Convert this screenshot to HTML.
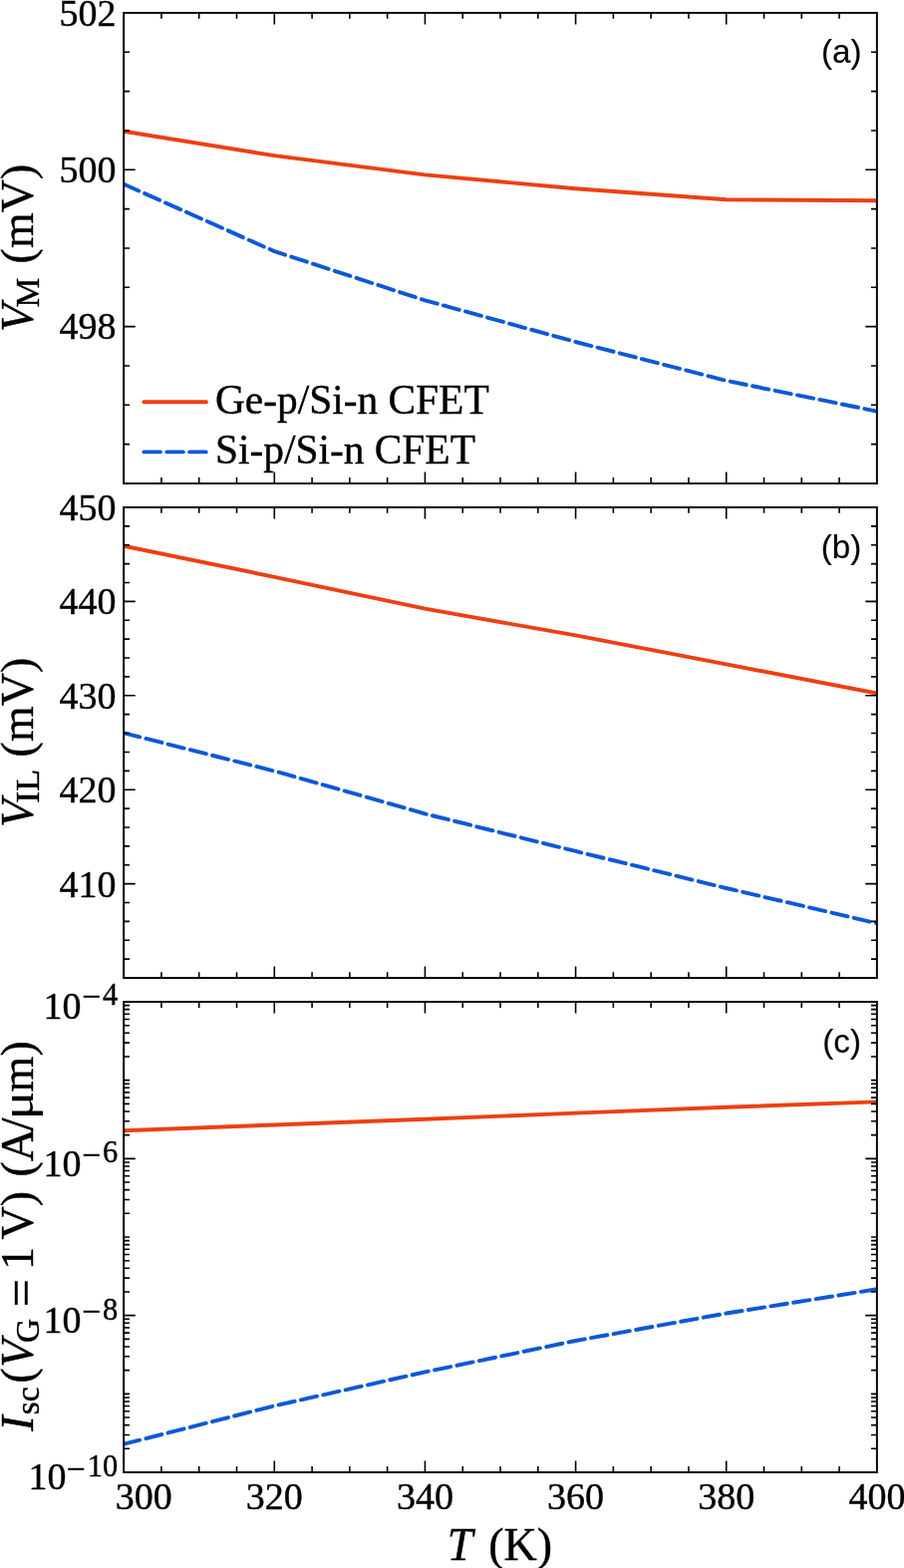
<!DOCTYPE html>
<html><head><meta charset="utf-8"><title>CFET temperature dependence</title>
<style>html,body{margin:0;padding:0;background:#fff}svg{display:block}</style></head>
<body>
<svg width="907" height="1573" viewBox="0 0 907 1573" font-family='"Liberation Serif","Times New Roman",serif' fill="#000" stroke="#000" stroke-width="0.4" stroke-linejoin="round">
<rect width="907" height="1573" fill="#fff" stroke="none"/>
<clipPath id="clip0"><rect x="124.15" y="12.9" width="755.7" height="472.1"/></clipPath>
<g clip-path="url(#clip0)" fill="none" stroke-width="3.9" stroke-linejoin="round"><path d="M124.2 131.7 L275.3 156.1 L426.4 175.4 L577.6 189.2 L728.7 200.2 L879.9 201.3" stroke="#EE3F12"/><path d="M124.2 184.8 L275.3 252.1 L426.4 301.3 L577.6 343.0 L728.7 381.9 L879.9 412.6" stroke="#0C58DB" stroke-dasharray="16.5 6.4" stroke-linecap="round" stroke-dashoffset="0"/></g>
<clipPath id="clip1"><rect x="124.15" y="508.95" width="755.7" height="472.1"/></clipPath>
<g clip-path="url(#clip1)" fill="none" stroke-width="3.9" stroke-linejoin="round"><path d="M124.2 547.7 L275.3 578.8 L426.4 610.7 L577.6 637.4 L728.7 666.4 L879.9 695.5" stroke="#EE3F12"/><path d="M124.2 735.3 L275.3 773.5 L426.4 816.4 L577.6 853.9 L728.7 891.0 L879.9 926.2" stroke="#0C58DB" stroke-dasharray="16.5 6.4" stroke-linecap="round" stroke-dashoffset="0"/></g>
<clipPath id="clip2"><rect x="124.15" y="1005.0" width="755.7" height="472.0"/></clipPath>
<g clip-path="url(#clip2)" fill="none" stroke-width="3.9" stroke-linejoin="round"><path d="M124.2 1134.2 L275.3 1128.5 L426.4 1122.8 L577.6 1116.6 L728.7 1110.7 L879.9 1105.4" stroke="#EE3F12"/><path d="M124.2 1448.7 L275.3 1410.3 L426.4 1376.4 L577.6 1345.0 L728.7 1317.5 L879.9 1293.3" stroke="#0C58DB" stroke-dasharray="16.5 6.4" stroke-linecap="round" stroke-dashoffset="0"/></g>
<path d="M161.94 12.90V18.80M161.94 485.00V479.10M199.72 12.90V18.80M199.72 485.00V479.10M237.50 12.90V18.80M237.50 485.00V479.10M275.29 12.90V24.50M275.29 485.00V473.40M313.08 12.90V18.80M313.08 485.00V479.10M350.86 12.90V18.80M350.86 485.00V479.10M388.64 12.90V18.80M388.64 485.00V479.10M426.43 12.90V24.50M426.43 485.00V473.40M464.22 12.90V18.80M464.22 485.00V479.10M502.00 12.90V18.80M502.00 485.00V479.10M539.79 12.90V18.80M539.79 485.00V479.10M577.57 12.90V24.50M577.57 485.00V473.40M615.36 12.90V18.80M615.36 485.00V479.10M653.14 12.90V18.80M653.14 485.00V479.10M690.93 12.90V18.80M690.93 485.00V479.10M728.71 12.90V24.50M728.71 485.00V473.40M766.50 12.90V18.80M766.50 485.00V479.10M804.28 12.90V18.80M804.28 485.00V479.10M842.06 12.90V18.80M842.06 485.00V479.10M124.15 445.66H130.05M879.85 445.66H873.95M124.15 406.32H130.05M879.85 406.32H873.95M124.15 366.98H130.05M879.85 366.98H873.95M124.15 327.63H135.75M879.85 327.63H868.25M124.15 288.29H130.05M879.85 288.29H873.95M124.15 248.95H130.05M879.85 248.95H873.95M124.15 209.61H130.05M879.85 209.61H873.95M124.15 170.27H135.75M879.85 170.27H868.25M124.15 130.93H130.05M879.85 130.93H873.95M124.15 91.58H130.05M879.85 91.58H873.95M124.15 52.24H130.05M879.85 52.24H873.95M161.94 508.95V514.85M161.94 981.05V975.15M199.72 508.95V514.85M199.72 981.05V975.15M237.50 508.95V514.85M237.50 981.05V975.15M275.29 508.95V520.55M275.29 981.05V969.45M313.08 508.95V514.85M313.08 981.05V975.15M350.86 508.95V514.85M350.86 981.05V975.15M388.64 508.95V514.85M388.64 981.05V975.15M426.43 508.95V520.55M426.43 981.05V969.45M464.22 508.95V514.85M464.22 981.05V975.15M502.00 508.95V514.85M502.00 981.05V975.15M539.79 508.95V514.85M539.79 981.05V975.15M577.57 508.95V520.55M577.57 981.05V969.45M615.36 508.95V514.85M615.36 981.05V975.15M653.14 508.95V514.85M653.14 981.05V975.15M690.93 508.95V514.85M690.93 981.05V975.15M728.71 508.95V520.55M728.71 981.05V969.45M766.50 508.95V514.85M766.50 981.05V975.15M804.28 508.95V514.85M804.28 981.05V975.15M842.06 508.95V514.85M842.06 981.05V975.15M124.15 962.17H130.05M879.85 962.17H873.95M124.15 943.28H130.05M879.85 943.28H873.95M124.15 924.40H130.05M879.85 924.40H873.95M124.15 905.51H130.05M879.85 905.51H873.95M124.15 886.63H135.75M879.85 886.63H868.25M124.15 867.75H130.05M879.85 867.75H873.95M124.15 848.86H130.05M879.85 848.86H873.95M124.15 829.98H130.05M879.85 829.98H873.95M124.15 811.09H130.05M879.85 811.09H873.95M124.15 792.21H135.75M879.85 792.21H868.25M124.15 773.33H130.05M879.85 773.33H873.95M124.15 754.44H130.05M879.85 754.44H873.95M124.15 735.56H130.05M879.85 735.56H873.95M124.15 716.67H130.05M879.85 716.67H873.95M124.15 697.79H135.75M879.85 697.79H868.25M124.15 678.91H130.05M879.85 678.91H873.95M124.15 660.02H130.05M879.85 660.02H873.95M124.15 641.14H130.05M879.85 641.14H873.95M124.15 622.25H130.05M879.85 622.25H873.95M124.15 603.37H135.75M879.85 603.37H868.25M124.15 584.49H130.05M879.85 584.49H873.95M124.15 565.60H130.05M879.85 565.60H873.95M124.15 546.72H130.05M879.85 546.72H873.95M124.15 527.83H130.05M879.85 527.83H873.95M161.94 1005.00V1010.90M161.94 1477.00V1471.10M199.72 1005.00V1010.90M199.72 1477.00V1471.10M237.50 1005.00V1010.90M237.50 1477.00V1471.10M275.29 1005.00V1016.60M275.29 1477.00V1465.40M313.08 1005.00V1010.90M313.08 1477.00V1471.10M350.86 1005.00V1010.90M350.86 1477.00V1471.10M388.64 1005.00V1010.90M388.64 1477.00V1471.10M426.43 1005.00V1016.60M426.43 1477.00V1465.40M464.22 1005.00V1010.90M464.22 1477.00V1471.10M502.00 1005.00V1010.90M502.00 1477.00V1471.10M539.79 1005.00V1010.90M539.79 1477.00V1471.10M577.57 1005.00V1016.60M577.57 1477.00V1465.40M615.36 1005.00V1010.90M615.36 1477.00V1471.10M653.14 1005.00V1010.90M653.14 1477.00V1471.10M690.93 1005.00V1010.90M690.93 1477.00V1471.10M728.71 1005.00V1016.60M728.71 1477.00V1465.40M766.50 1005.00V1010.90M766.50 1477.00V1471.10M804.28 1005.00V1010.90M804.28 1477.00V1471.10M842.06 1005.00V1010.90M842.06 1477.00V1471.10M124.15 1453.32H130.05M879.85 1453.32H873.95M124.15 1439.47H130.05M879.85 1439.47H873.95M124.15 1429.64H130.05M879.85 1429.64H873.95M124.15 1422.01H130.05M879.85 1422.01H873.95M124.15 1415.79H130.05M879.85 1415.79H873.95M124.15 1410.52H130.05M879.85 1410.52H873.95M124.15 1405.96H130.05M879.85 1405.96H873.95M124.15 1401.93H130.05M879.85 1401.93H873.95M124.15 1398.33H130.05M879.85 1398.33H873.95M124.15 1374.65H130.05M879.85 1374.65H873.95M124.15 1360.80H130.05M879.85 1360.80H873.95M124.15 1350.97H130.05M879.85 1350.97H873.95M124.15 1343.35H130.05M879.85 1343.35H873.95M124.15 1337.12H130.05M879.85 1337.12H873.95M124.15 1331.85H130.05M879.85 1331.85H873.95M124.15 1327.29H130.05M879.85 1327.29H873.95M124.15 1323.27H130.05M879.85 1323.27H873.95M124.15 1319.67H135.75M879.85 1319.67H868.25M124.15 1295.99H130.05M879.85 1295.99H873.95M124.15 1282.13H130.05M879.85 1282.13H873.95M124.15 1272.30H130.05M879.85 1272.30H873.95M124.15 1264.68H130.05M879.85 1264.68H873.95M124.15 1258.45H130.05M879.85 1258.45H873.95M124.15 1253.19H130.05M879.85 1253.19H873.95M124.15 1248.62H130.05M879.85 1248.62H873.95M124.15 1244.60H130.05M879.85 1244.60H873.95M124.15 1241.00H130.05M879.85 1241.00H873.95M124.15 1217.32H130.05M879.85 1217.32H873.95M124.15 1203.47H130.05M879.85 1203.47H873.95M124.15 1193.64H130.05M879.85 1193.64H873.95M124.15 1186.01H130.05M879.85 1186.01H873.95M124.15 1179.79H130.05M879.85 1179.79H873.95M124.15 1174.52H130.05M879.85 1174.52H873.95M124.15 1169.96H130.05M879.85 1169.96H873.95M124.15 1165.93H130.05M879.85 1165.93H873.95M124.15 1162.33H135.75M879.85 1162.33H868.25M124.15 1138.65H130.05M879.85 1138.65H873.95M124.15 1124.80H130.05M879.85 1124.80H873.95M124.15 1114.97H130.05M879.85 1114.97H873.95M124.15 1107.35H130.05M879.85 1107.35H873.95M124.15 1101.12H130.05M879.85 1101.12H873.95M124.15 1095.85H130.05M879.85 1095.85H873.95M124.15 1091.29H130.05M879.85 1091.29H873.95M124.15 1087.27H130.05M879.85 1087.27H873.95M124.15 1083.67H130.05M879.85 1083.67H873.95M124.15 1059.99H130.05M879.85 1059.99H873.95M124.15 1046.13H130.05M879.85 1046.13H873.95M124.15 1036.30H130.05M879.85 1036.30H873.95M124.15 1028.68H130.05M879.85 1028.68H873.95M124.15 1022.45H130.05M879.85 1022.45H873.95M124.15 1017.19H130.05M879.85 1017.19H873.95M124.15 1012.62H130.05M879.85 1012.62H873.95M124.15 1008.60H130.05M879.85 1008.60H873.95" stroke="#000" stroke-width="1.6" fill="none"/>
<rect x="124.15" y="12.9" width="755.7" height="472.1" fill="none" stroke="#000" stroke-width="1.95" stroke-linejoin="miter"/>
<rect x="124.15" y="508.95" width="755.7" height="472.1" fill="none" stroke="#000" stroke-width="1.95" stroke-linejoin="miter"/>
<rect x="124.15" y="1005.0" width="755.7" height="472.0" fill="none" stroke="#000" stroke-width="1.95" stroke-linejoin="miter"/>
<path d="M144.4 403.3H206.9" stroke="#EE3F12" stroke-width="3.9" stroke-linecap="round" fill="none"/>
<path d="M144.4 453.4H206.9" stroke="#0C58DB" stroke-width="3.9" stroke-linecap="round" stroke-dasharray="16.5 6.4" fill="none"/>
<text x="215.9" y="415" font-size="41.4">Ge-p/Si-n CFET</text>
<text x="215.9" y="465" font-size="41.4">Si-p/Si-n CFET</text>
<text x="144.2" y="1513.5" text-anchor="middle" font-size="38">300</text>
<text x="275.3" y="1513.5" text-anchor="middle" font-size="38">320</text>
<text x="426.4" y="1513.5" text-anchor="middle" font-size="38">340</text>
<text x="577.6" y="1513.5" text-anchor="middle" font-size="38">360</text>
<text x="728.7" y="1513.5" text-anchor="middle" font-size="38">380</text>
<text x="879.9" y="1513.5" text-anchor="middle" font-size="38">400</text>
<text x="448.7" y="1564.5" font-size="46" font-style="italic">T</text>
<text x="490.3" y="1564.5" font-size="46">(K)</text>
<text transform="translate(32.9 333.0) rotate(-90)" font-size="46" font-style="italic">V</text>
<text transform="translate(39.3 308.5) rotate(-90)" font-size="33.5">M</text>
<text transform="translate(32.9 264.4) rotate(-90)" font-size="46">(mV)</text>
<text transform="translate(32.9 829.9) rotate(-90)" font-size="46" font-style="italic">V</text>
<text transform="translate(39.3 805.85) rotate(-90) scale(1.08 1)" font-size="33.5">IL</text>
<text transform="translate(32.9 759.4) rotate(-90)" font-size="46">(mV)</text>
<text transform="translate(32.9 1435.8) rotate(-90)" font-size="46" font-style="italic">I</text>
<text transform="translate(39.3 1419.3) rotate(-90)" font-size="33.5">sc</text>
<text transform="translate(32.9 1387.4) rotate(-90)" font-size="46">(</text>
<text transform="translate(32.9 1371.7) rotate(-90)" font-size="46" font-style="italic">V</text>
<text transform="translate(39.3 1346.9) rotate(-90)" font-size="33.5">G</text>
<text transform="translate(37.7 1311.3) rotate(-90)" font-size="50">=</text>
<text transform="translate(32.9 1274.1) rotate(-90)" font-size="46">1</text>
<text transform="translate(32.9 1243.4) rotate(-90)" font-size="46">V)</text>
<text transform="translate(32.9 1180.5) rotate(-90)" font-size="46">(A</text>
<text transform="translate(32.9 1134.3) rotate(-90)" font-size="46">/</text>
<text transform="translate(32.9 1123.2) rotate(-90) scale(1.166 1)" font-size="46" stroke="none">μ</text>
<text transform="translate(32.9 1095.4) rotate(-90)" font-size="46">m)</text>
<text x="116.6" y="340.1" text-anchor="end" font-size="38">498</text>
<text x="116.6" y="182.7" text-anchor="end" font-size="38">500</text>
<text x="116.6" y="26.0" text-anchor="end" font-size="38">502</text>
<text x="864.5" y="63.2" text-anchor="end" font-family='"Liberation Sans",Arial,sans-serif' font-size="33.2" stroke-width="0.15">(a)</text>
<text x="116.6" y="899.5" text-anchor="end" font-size="38">410</text>
<text x="116.6" y="805.1" text-anchor="end" font-size="38">420</text>
<text x="116.6" y="710.9" text-anchor="end" font-size="38">430</text>
<text x="116.6" y="615.8" text-anchor="end" font-size="38">440</text>
<text x="116.6" y="522.0" text-anchor="end" font-size="38">450</text>
<text x="864.3" y="559.6" text-anchor="end" font-family='"Liberation Sans",Arial,sans-serif' font-size="33.2" stroke-width="0.15">(b)</text>
<text x="81.6" y="1021.8" text-anchor="end" font-size="38">10</text>
<text x="82.5" y="1011.4" font-size="33.6">−</text>
<text x="118.2" y="1007.6" text-anchor="end" font-size="30.5">4</text>
<text x="81.6" y="1179.9" text-anchor="end" font-size="38">10</text>
<text x="82.5" y="1169.6" font-size="33.6">−</text>
<text x="118.2" y="1165.8" text-anchor="end" font-size="30.5">6</text>
<text x="81.6" y="1337.0" text-anchor="end" font-size="38">10</text>
<text x="82.5" y="1327.3" font-size="33.6">−</text>
<text x="118.2" y="1323.5" text-anchor="end" font-size="30.5">8</text>
<text x="66.6" y="1494.3" text-anchor="end" font-size="38">10</text>
<text x="67.0" y="1485.0" font-size="33.6">−</text>
<text x="118.2" y="1481.2" text-anchor="end" font-size="30.5">10</text>
<text x="864.0" y="1055.7" text-anchor="end" font-family='"Liberation Sans",Arial,sans-serif' font-size="33.2" stroke-width="0.15">(c)</text>
</svg>
</body></html>
